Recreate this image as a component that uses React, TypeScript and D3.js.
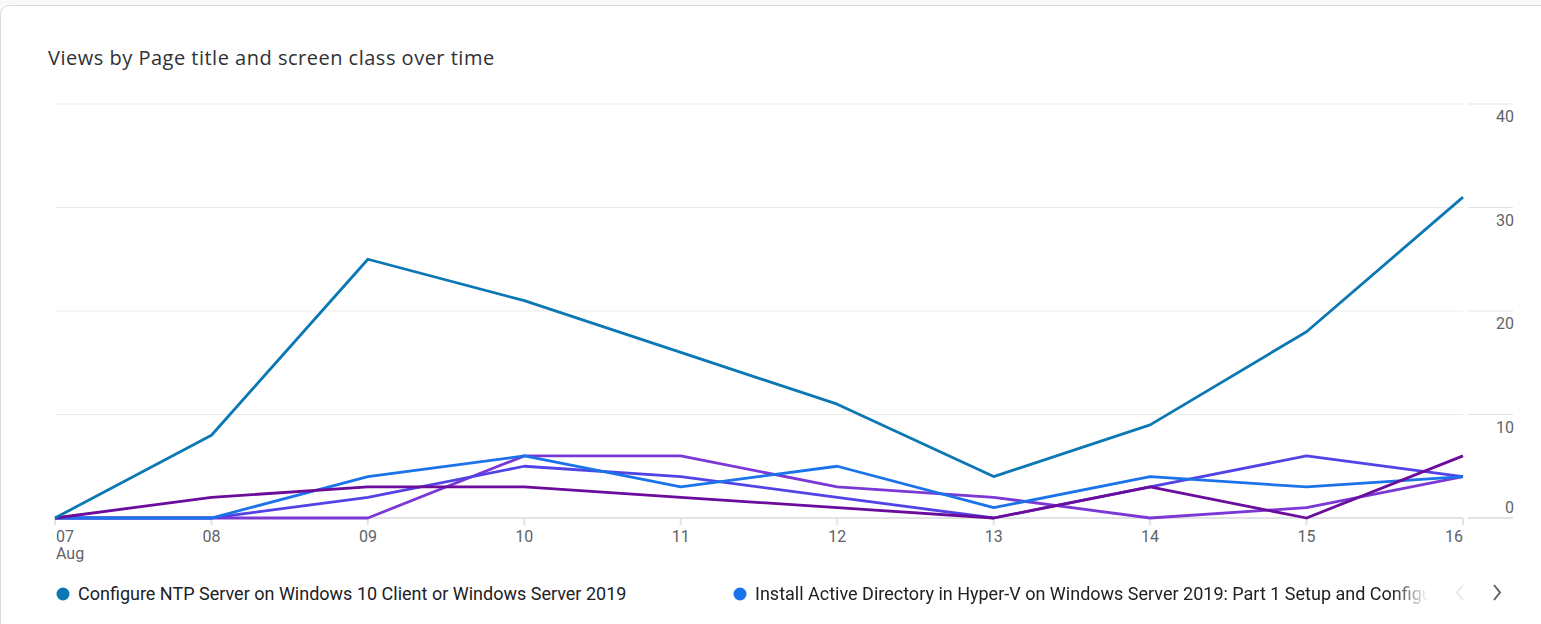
import React, { useMemo } from "react";
import * as d3 from "d3";

const WIDTH = 1541;
const HEIGHT = 624;

const days = ["07", "08", "09", "10", "11", "12", "13", "14", "15", "16"];
const yTicks = [0, 10, 20, 30, 40];

const ntpViews = [0, 8, 25, 21, 16, 11, 4, 9, 18, 31];
const adPart1Views = [0, 0, 4, 6, 3, 5, 1, 4, 3, 4];
const indigoViews = [0, 0, 2, 5, 4, 2, 0, 3, 6, 4];
const violetViews = [0, 0, 0, 6, 6, 3, 2, 0, 1, 4];
const plumViews = [0, 2, 3, 3, 2, 1, 0, 3, 0, 6];

const seriesNames = [
  "Configure NTP Server on Windows 10 Client or Windows Server 2019",
  "Install Active Directory in Hyper-V on Windows Server 2019: Part 1 Setup and Configuration",
];

const series = [
  { key: "violet", values: violetViews, color: "#7b38d4" },
  { key: "indigo", values: indigoViews, color: "#5243e6" },
  { key: "blue", values: adPart1Views, color: "#1a73e8" },
  { key: "plum", values: plumViews, color: "#6b0c9c" },
  { key: "teal", values: ntpViews, color: "#0b78b4" },
];

const FONT = "Roboto, 'Noto Sans', sans-serif";

export const App = () => {
  const xScale = useMemo(
    () => d3.scalePoint<string>().domain(days).range([55, 1463]),
    []
  );
  const yScale = useMemo(
    () => d3.scaleLinear().domain([0, 40]).range([518, 104]),
    []
  );

  const lineGen = d3
    .line<number>()
    .x((_, i) => xScale(days[i]) ?? 0)
    .y((d) => yScale(d));

  return (
    <div style={{ position: "fixed", left: 0, top: 0 }}>
      <svg width={WIDTH} height={HEIGHT} style={{ display: "block" }}>
        <defs>
          <linearGradient id="fade" x1="1392" x2="1428" y1="0" y2="0" gradientUnits="userSpaceOnUse">
            <stop offset="0" stopColor="#fff" stopOpacity={1} />
            <stop offset="1" stopColor="#fff" stopOpacity={0} />
          </linearGradient>
          <mask id="legendMask" maskUnits="userSpaceOnUse">
            <rect x={0} y={560} width={1428} height={64} fill="url(#fade)" />
          </mask>
        </defs>

        {/* page + card */}
        <rect x={0} y={0} width={WIDTH} height={HEIGHT} fill="#f8f9fa" />
        <rect
          x={0.5}
          y={5.5}
          width={WIDTH + 20}
          height={HEIGHT + 20}
          rx={9}
          fill="#fff"
          stroke="#dadce0"
        />

        <text
          x={48}
          y={65}
          fontFamily="'Open Sans', sans-serif"
          fontSize={20}
          letterSpacing={0.5}
          fill="#303134"
        >
          Views by Page title and screen class over time
        </text>

        {/* grid */}
        {yTicks.map((t) => (
          <g key={t}>
            <line
              x1={55}
              x2={1463}
              y1={yScale(t)}
              y2={yScale(t)}
              stroke={t === 0 ? "#e3e3e3" : "#ebebeb"}
              strokeWidth={t === 0 ? 2 : 1.2}
            />
            <line
              x1={1468}
              x2={1513}
              y1={yScale(t)}
              y2={yScale(t)}
              stroke="#e3e3e3"
              strokeWidth={t === 0 ? 2 : 1.2}
            />
            <text
              x={1514}
              y={t === 0 ? yScale(t) - 5 : yScale(t) + 18}
              textAnchor="end"
              fontFamily={FONT}
              fontSize={16}
              fill="#5f6368"
            >
              {t}
            </text>
          </g>
        ))}

        {/* x ticks */}
        {days.map((d, i) => {
          const x = xScale(d) ?? 0;
          const anchor = i === 0 ? "start" : i === days.length - 1 ? "end" : "middle";
          return (
            <g key={d}>
              <line x1={x} x2={x} y1={518} y2={525} stroke="#e3e3e3" strokeWidth={2} />
              <text
                x={i === 0 ? x + 1 : x}
                y={542}
                textAnchor={anchor}
                fontFamily={FONT}
                fontSize={16}
                fill="#5f6368"
              >
                {d}
              </text>
              {i === 0 && (
                <text x={x + 1} y={559} fontFamily={FONT} fontSize={16} fill="#5f6368">
                  Aug
                </text>
              )}
            </g>
          );
        })}

        {/* lines */}
        {series.map((s) => (
          <path
            key={s.key}
            d={lineGen(s.values) || ""}
            fill="none"
            stroke={s.color}
            strokeWidth={2.8}
            strokeLinejoin="round"
          />
        ))}

        {/* legend */}
        <circle cx={63} cy={594} r={6.5} fill="#0b78b4" />
        <text x={78} y={600} fontFamily={FONT} fontSize={18} fill="#202124">
          {seriesNames[0]}
        </text>
        <g mask="url(#legendMask)">
          <circle cx={740} cy={594} r={6.5} fill="#1a73e8" />
          <text x={755} y={600} fontFamily={FONT} fontSize={18} fill="#202124">
            {seriesNames[1]}
          </text>
        </g>
        <polyline
          points="1463,585 1457,592.5 1463,600"
          fill="none"
          stroke="#e8eaed"
          strokeWidth={2}
        />
        <polyline
          points="1494,585 1500,592.5 1494,600"
          fill="none"
          stroke="#5f6368"
          strokeWidth={2}
        />
      </svg>
    </div>
  );
};

export default App;
